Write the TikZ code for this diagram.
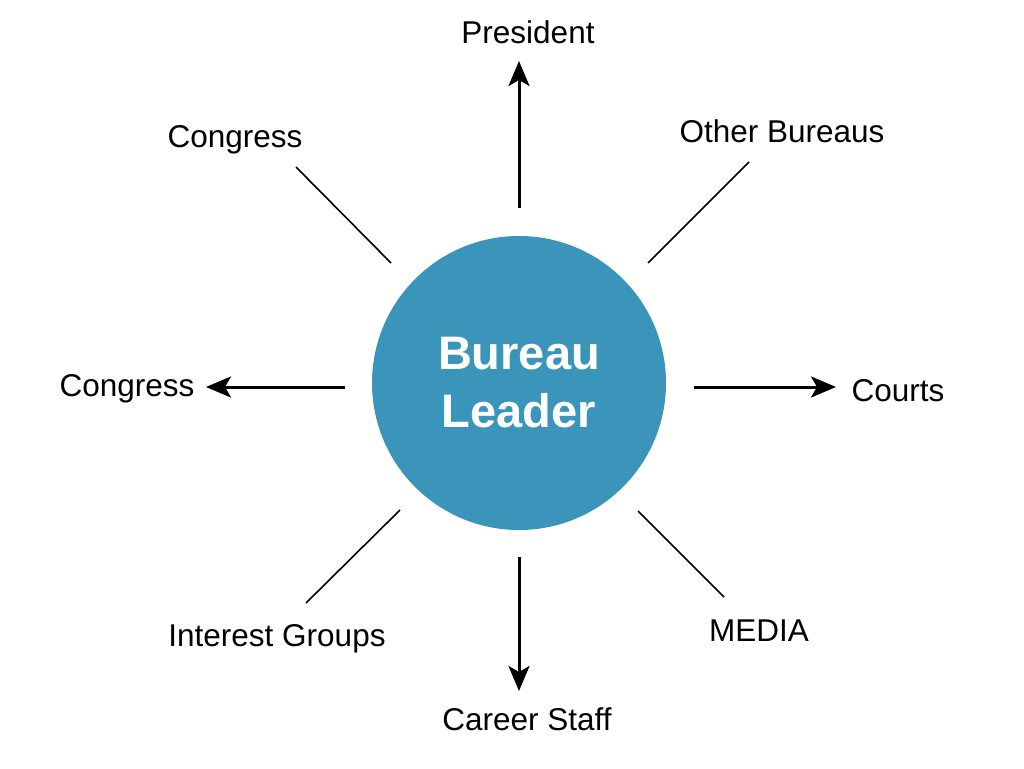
\documentclass[tikz,border=0pt]{standalone}
\usepackage{fontspec}
\setmainfont{Liberation Sans}
\usetikzlibrary{arrows.meta}
\definecolor{bureaublue}{HTML}{3B94B9}
\begin{document}
\begin{tikzpicture}[x=1pt,y=-1pt,
  lbl/.style={inner sep=0pt,font=\fontsize{31.5}{36}\selectfont,yshift=-3pt},
  arr/.style={line width=3pt,-{Stealth[length=25pt,width=21pt,inset=6pt]}},
  plain/.style={line width=1.6pt}]
\useasboundingbox[fill=white] (0,0) rectangle (1024,768);
\node[circle,fill=bureaublue,minimum size=294pt,inner sep=0pt,align=center,text=white,
  font=\fontsize{47}{58}\selectfont\bfseries] (c) at (519,383) {Bureau\\Leader};
\node[lbl] (pres) at (528,29) {President};
\node[lbl] (cong1) at (235,137) {Congress};
\node[lbl] (other) at (782,128) {Other Bureaus};
\node[lbl] (cong2) at (127,386) {Congress};
\node[lbl] (courts) at (898,388) {Courts};
\node[lbl] (interest) at (277,636) {Interest Groups};
\node[lbl] (media) at (759,628) {MEDIA};
\node[lbl] (career) at (527,716) {Career Staff};
% endpoints
\coordinate (u0) at (519,208); \coordinate (u1) at (519,61);
\coordinate (l0) at (345,387); \coordinate (l1) at (206,387);
\coordinate (r0) at (694,387); \coordinate (r1) at (836,387);
\coordinate (d0) at (519,557); \coordinate (d1) at (519,691);
\coordinate (a0) at (391,263); \coordinate (a1) at (296,167);
\coordinate (b0) at (648,263); \coordinate (b1) at (749,162);
\coordinate (e0) at (400,510); \coordinate (e1) at (306,603);
\coordinate (f0) at (638,511); \coordinate (f1) at (724,597);
\draw[arr] (u0) -- (u1);
\draw[arr] (l0) -- (l1);
\draw[arr] (r0) -- (r1);
\draw[arr] (d0) -- (d1);
\draw[plain] (a0) -- (a1);
\draw[plain] (b0) -- (b1);
\draw[plain] (e0) -- (e1);
\draw[plain] (f0) -- (f1);
\end{tikzpicture}
\end{document}
